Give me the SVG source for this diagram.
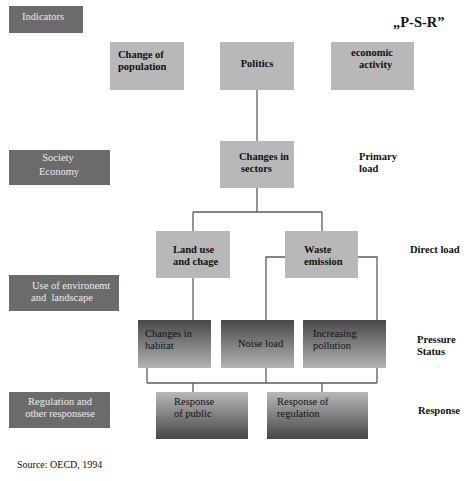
<svg xmlns="http://www.w3.org/2000/svg" width="474" height="481" viewBox="0 0 474 481">
<defs>
<linearGradient id="gDown" x1="0" y1="0" x2="0" y2="1">
<stop offset="0" stop-color="#484848"/>
<stop offset="1" stop-color="#b4b4b4"/>
</linearGradient>
<linearGradient id="gUp" x1="0" y1="0" x2="0" y2="1">
<stop offset="0" stop-color="#b8b8b8"/>
<stop offset="1" stop-color="#464646"/>
</linearGradient>
</defs>
<style>
text{font-family:"Liberation Serif","Times New Roman",serif;font-size:10.5px;}
.b{font-weight:bold;fill:#111;}
.side rect{fill:#6b6b6b;}
.side text{fill:#ececec;}
.light rect{fill:#b8b8b8;}
.press rect{fill:url(#gDown);}
.resp rect{fill:url(#gUp);}
.g text{fill:#111;}
#connectors path{fill:none;stroke:#5c5c5c;stroke-width:1.3;}
</style>
<rect width="474" height="481" fill="#fff"/>

<g id="connectors">
<path d="M257 90V141"/>
<path d="M257 188V212M193 212H322M193 212V231M322 212V231"/>
<path d="M193 278V320"/>
<path d="M285 257H266V320M358 257H377V320"/>
<path d="M147 368V383M266 368V383M377 368V383M147 383H377M193 383V392M322 383V392"/>
</g>

<g id="indicators" class="side"><rect x="9" y="6" width="74" height="27"/><text x="22" y="20">Indicators</text></g>
<g id="society" class="side"><rect x="9" y="150" width="101" height="35"/><text x="58" y="161" text-anchor="middle">Society</text><text x="59" y="175" text-anchor="middle">Economy</text></g>
<g id="useenv" class="side"><rect x="9" y="275" width="110" height="36"/><text x="32" y="289">Use of environemt</text><text x="31" y="301" xml:space="preserve">and  landscape</text></g>
<g id="regulation" class="side"><rect x="9" y="392" width="101" height="36"/><text x="60" y="405" text-anchor="middle">Regulation and</text><text x="60" y="417" text-anchor="middle">other responsese</text></g>

<g id="population" class="light"><rect x="110" y="42" width="74" height="48"/><text class="b" x="118" y="58">Change of</text><text class="b" x="118" y="70">population</text></g>
<g id="politics" class="light"><rect x="220" y="42" width="74" height="48"/><text class="b" x="257" y="67" text-anchor="middle">Politics</text></g>
<g id="economic" class="light"><rect x="331" y="42" width="83" height="48"/><text class="b" x="351" y="56">economic</text><text class="b" x="359" y="68">activity</text></g>
<g id="sectors" class="light"><rect x="220" y="141" width="74" height="47"/><text class="b" x="239" y="160">Changes in</text><text class="b" x="241" y="172">sectors</text></g>
<g id="landuse" class="light"><rect x="156" y="231" width="74" height="47"/><text class="b" x="173" y="253">Land use</text><text class="b" x="173" y="265">and chage</text></g>
<g id="waste" class="light"><rect x="285" y="231" width="73" height="47"/><text class="b" x="304" y="253">Waste</text><text class="b" x="304" y="265">emission</text></g>

<g id="habitat" class="press g"><rect x="138" y="320" width="73" height="48"/><text x="145" y="337">Changes in</text><text x="145" y="349">habitat</text></g>
<g id="noise" class="press g"><rect x="221" y="320" width="73" height="48"/><text x="238" y="347">Noise load</text></g>
<g id="pollution" class="press g"><rect x="303" y="320" width="83" height="48"/><text x="313" y="337">Increasing</text><text x="313" y="349">pollution</text></g>

<g id="public" class="resp g"><rect x="156" y="392" width="92" height="47"/><text x="174" y="405">Response</text><text x="174" y="417">of public</text></g>
<g id="regresp" class="resp g"><rect x="267" y="392" width="101" height="47"/><text x="277" y="405">Response of</text><text x="277" y="417">regulation</text></g>

<g id="labels">
<text class="b" x="393" y="27" style="font-size:14.5px">„P-S-R”</text>
<text class="b" x="359" y="160">Primary</text>
<text class="b" x="359" y="172">load</text>
<text class="b" x="410" y="253">Direct load</text>
<text class="b" x="417" y="343">Pressure</text>
<text class="b" x="417" y="355">Status</text>
<text class="b" x="418" y="414">Response</text>
<text x="17" y="468" style="font-size:10px;fill:#111">Source: OECD, 1994</text>
</g>
</svg>
